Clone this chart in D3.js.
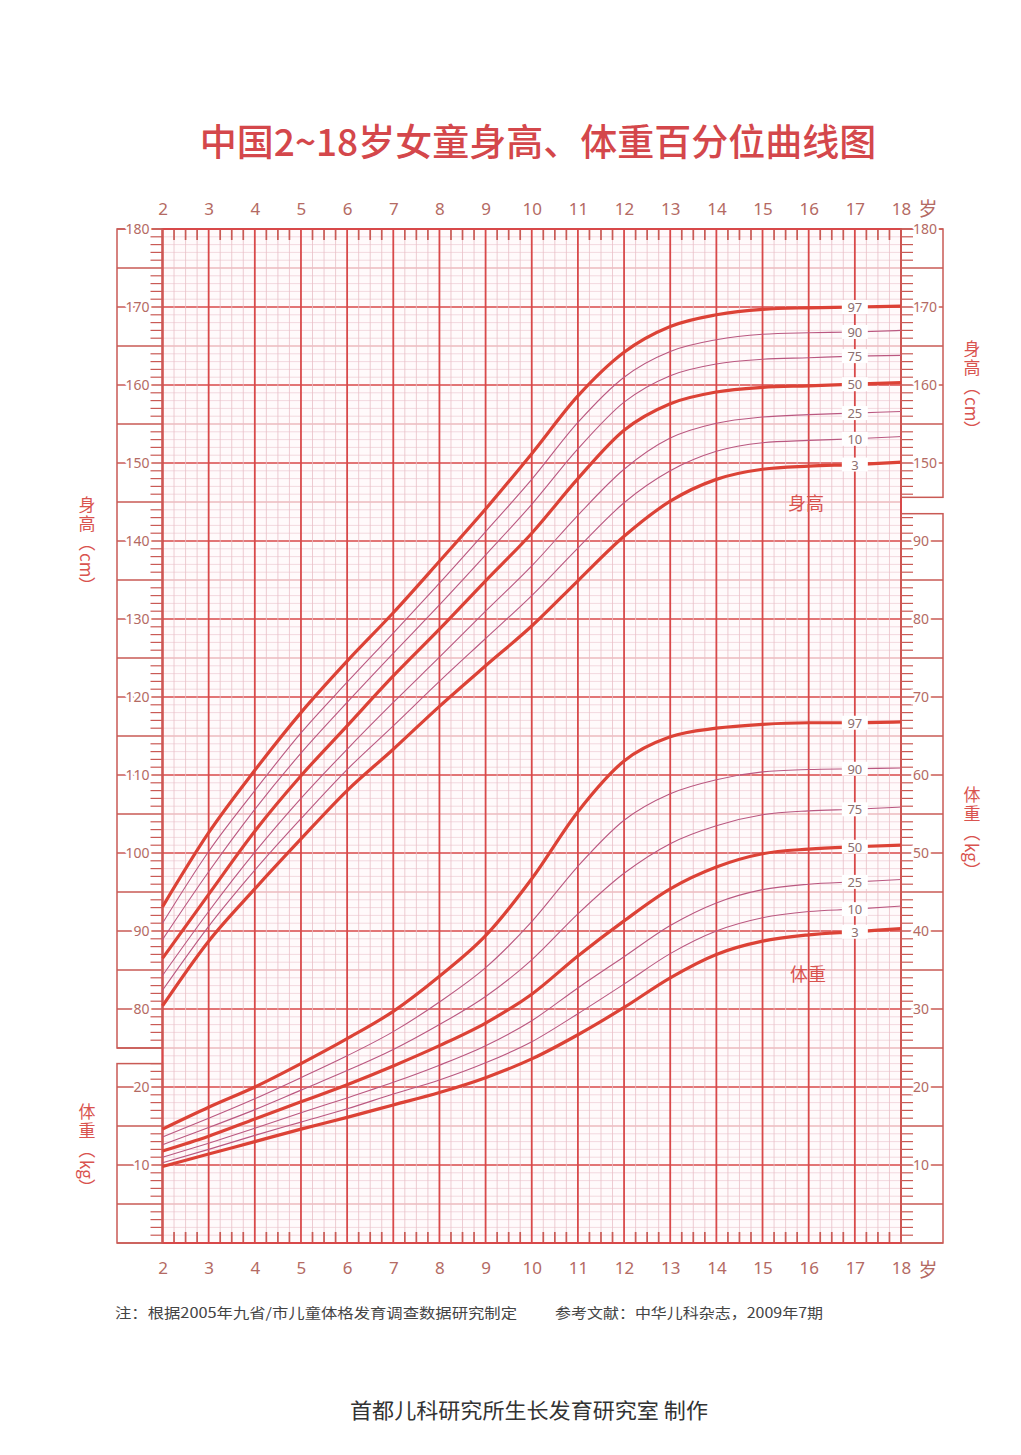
<!DOCTYPE html>
<html>
<head>
<meta charset="utf-8">
<script src="https://cdn.jsdelivr.net/npm/d3@7"></script>
<style>
  body { margin: 0; background: #fff; }
  svg text { font-family: "Noto Sans CJK SC", "Noto Sans", sans-serif; }
</style>
</head>
<body>
<div id="chart"></div>
<script>
// ages (years) at which the percentile values were read
var ages = [2, 3, 4, 5, 6, 7, 8, 9, 10, 11, 12, 13, 14, 15, 16, 17, 18];
var percentiles = ["3", "10", "25", "50", "75", "90", "97"];

// height (cm)
var h3  = [80.4, 88.7, 95.4, 101.8, 108.0, 113.3, 118.8, 124.0, 129.1, 134.9, 140.6, 145.1, 147.9, 149.2, 149.6, 149.8, 150.1];
var h10 = [82.4, 90.6, 97.8, 104.4, 110.7, 116.3, 122.0, 127.5, 133.0, 139.1, 144.9, 149.0, 151.5, 152.6, 152.9, 153.1, 153.4];
var h25 = [84.3, 92.5, 100.1, 107.0, 113.3, 119.3, 125.1, 131.0, 136.8, 143.3, 149.2, 153.2, 155.1, 155.9, 156.2, 156.4, 156.6];
var h50 = [86.5, 94.7, 102.8, 109.9, 116.3, 122.7, 128.7, 134.9, 141.0, 148.0, 154.2, 157.6, 159.1, 159.7, 159.9, 160.1, 160.3];
var h75 = [88.9, 97.6, 105.6, 112.8, 119.3, 125.6, 131.8, 138.2, 144.7, 151.8, 157.8, 161.2, 162.7, 163.3, 163.5, 163.7, 163.8];
var h90 = [91.0, 100.2, 108.0, 115.4, 121.9, 128.2, 134.6, 141.2, 147.9, 155.2, 161.0, 164.3, 165.8, 166.5, 166.7, 166.8, 167.0];
var h97 = [93.1, 102.6, 110.6, 118.0, 124.6, 130.8, 137.4, 144.1, 151.2, 158.6, 164.2, 167.5, 169.0, 169.7, 169.9, 170.0, 170.1];

// weight (kg)
var w3  = [9.8, 11.4, 13.0, 14.6, 16.1, 17.7, 19.3, 21.2, 23.6, 26.7, 30.2, 34.0, 37.0, 38.7, 39.5, 39.9, 40.3];
var w10 = [10.3, 12.0, 13.8, 15.5, 17.2, 19.1, 20.9, 23.1, 25.8, 29.4, 33.2, 37.1, 40.0, 41.7, 42.5, 42.8, 43.2];
var w25 = [11.0, 12.8, 14.7, 16.7, 18.6, 20.6, 22.8, 25.3, 28.5, 32.7, 36.7, 40.7, 43.6, 45.3, 46.0, 46.3, 46.6];
var w50 = [11.8, 13.7, 15.9, 18.1, 20.3, 22.7, 25.3, 28.2, 31.9, 36.8, 41.3, 45.4, 48.2, 49.9, 50.5, 50.8, 51.0];
var w75 = [12.6, 14.8, 17.1, 19.6, 22.1, 24.8, 28.0, 31.6, 36.3, 42.2, 47.4, 51.2, 53.5, 54.9, 55.4, 55.6, 55.9];
var w90 = [13.6, 16.0, 18.5, 21.2, 24.0, 27.1, 30.9, 35.3, 41.2, 48.3, 54.2, 57.6, 59.4, 60.4, 60.7, 60.8, 60.9];
var w97 = [14.6, 17.4, 20.0, 23.0, 26.2, 29.7, 34.2, 39.4, 46.7, 55.3, 61.8, 64.9, 66.0, 66.5, 66.7, 66.7, 66.8];

// tick labels
var ageTicks = [2, 3, 4, 5, 6, 7, 8, 9, 10, 11, 12, 13, 14, 15, 16, 17, 18];
var heightTicksLeft = [80, 90, 100, 110, 120, 130, 140, 150, 160, 170, 180];
var heightTicksRight = [150, 160, 170, 180];
var weightTicksLeft = [10, 20];
var weightTicksRight = [10, 20, 30, 40, 50, 60, 70, 80, 90];

var heightSeries = [h3, h10, h25, h50, h75, h90, h97];
var weightSeries = [w3, w10, w25, w50, w75, w90, w97];

var red = "#d8494a";
var boxColor = "#c95a55";
var labelColor = "#b46a63";

var svg = d3.select("#chart").append("svg")
  .attr("width", 1021)
  .attr("height", 1455);

svg.append("rect").attr("width", 1021).attr("height", 1455).attr("fill", "#fff");

var x = d3.scaleLinear().domain([2, 18]).range([162.5, 901]);
var yH = d3.scaleLinear().domain([50, 180]).range([1243, 229]);
var yW = d3.scaleLinear().domain([0, 130]).range([1243, 229]);

// title
svg.append("text")
  .attr("x", 538).attr("y", 140)
  .attr("text-anchor", "middle")
  .attr("dominant-baseline", "central")
  .style("font-size", "37px")
  .style("font-weight", 500)
  .attr("fill", "#d4474b")
  .text("中国2~18岁女童身高、体重百分位曲线图");

// ---- grid ----
var grid = svg.append("g");
grid.append("rect")
  .attr("x", x(2)).attr("y", yH(180))
  .attr("width", x(18) - x(2)).attr("height", yH(50) - yH(180))
  .attr("fill", "#fffafb");
// horizontal lines every 1 cm
d3.range(50, 181).forEach(function (v) {
  var cls = v % 10 == 0 ? 2 : (v % 5 == 0 ? 1 : 0);
  grid.append("line")
    .attr("x1", x(2)).attr("x2", x(18))
    .attr("y1", yH(v)).attr("y2", yH(v))
    .attr("stroke", cls == 2 ? red : (cls == 1 ? "#e39aa0" : "#eecbd2"))
    .attr("stroke-width", cls == 2 ? 1.7 : (cls == 1 ? 1.1 : 0.7));
});
// vertical lines every quarter year
d3.range(2, 18.01, 0.25).forEach(function (a) {
  var major = Math.abs(a - Math.round(a)) < 0.01;
  grid.append("line")
    .attr("x1", x(a)).attr("x2", x(a))
    .attr("y1", yH(180)).attr("y2", yH(50))
    .attr("stroke", major ? red : "#e9bfc7")
    .attr("stroke-width", major ? 1.8 : 0.8);
  if (!major) {
    grid.append("line")
      .attr("x1", x(a)).attr("x2", x(a))
      .attr("y1", yH(180)).attr("y2", yH(180) + 11)
      .attr("stroke", boxColor).attr("stroke-width", 1.7);
    grid.append("line")
      .attr("x1", x(a)).attr("x2", x(a))
      .attr("y1", yH(50)).attr("y2", yH(50) - 11)
      .attr("stroke", boxColor).attr("stroke-width", 1.7);
  }
});
grid.append("rect")
  .attr("x", x(2)).attr("y", yH(180))
  .attr("width", x(18) - x(2)).attr("height", yH(50) - yH(180))
  .attr("fill", "none").attr("stroke", red).attr("stroke-width", 2);

// ---- side boxes ----
function sideBox(scale, lo, hi, side) {
  var g = svg.append("g");
  var x0 = side == "left" ? 117 : x(18);
  var x1 = side == "left" ? x(2) : 943;
  g.append("rect")
    .attr("x", x0).attr("y", scale(hi))
    .attr("width", x1 - x0).attr("height", scale(lo) - scale(hi))
    .attr("fill", "none").attr("stroke", boxColor).attr("stroke-width", 1.5);
  d3.range(Math.ceil(lo), Math.floor(hi) + 1).forEach(function (v) {
    if (v % 5 == 0) {
      g.append("line")
        .attr("x1", x0).attr("x2", x1)
        .attr("y1", scale(v)).attr("y2", scale(v))
        .attr("stroke", boxColor).attr("stroke-width", 1.3);
    } else {
      var ta = side == "left" ? x(2) - 12 : x(18);
      g.append("line")
        .attr("x1", ta).attr("x2", ta + 12)
        .attr("y1", scale(v)).attr("y2", scale(v))
        .attr("stroke", boxColor).attr("stroke-width", 1.2);
    }
  });
}
sideBox(yH, 75, 180, "left");
sideBox(yW, 0, 23, "left");
sideBox(yH, 145.6, 180, "right");
sideBox(yW, 0, 93.5, "right");

function styleAxis(g, size) {
  g.select(".domain").remove();
  g.selectAll("text")
    .attr("fill", labelColor)
    .style("font-size", size + "px")
    .style("font-family", "'Noto Sans', sans-serif");
}
function haloAxis(g) {
  styleAxis(g, 14);
  g.selectAll("text")
    .attr("stroke", "#fff").attr("stroke-width", 5)
    .attr("paint-order", "stroke");
}

svg.append("g").attr("transform", "translate(" + x(2) + ",0)")
  .call(d3.axisLeft(yH).tickValues(heightTicksLeft).tickSize(0).tickPadding(13))
  .call(haloAxis);
svg.append("g").attr("transform", "translate(" + x(2) + ",0)")
  .call(d3.axisLeft(yW).tickValues(weightTicksLeft).tickSize(0).tickPadding(13))
  .call(haloAxis);
svg.append("g").attr("transform", "translate(" + x(18) + ",0)")
  .call(d3.axisRight(yH).tickValues(heightTicksRight).tickSize(0).tickPadding(12))
  .call(haloAxis);
svg.append("g").attr("transform", "translate(" + x(18) + ",0)")
  .call(d3.axisRight(yW).tickValues(weightTicksRight).tickSize(0).tickPadding(12))
  .call(haloAxis);

// age axes
svg.append("g").attr("transform", "translate(0,215)")
  .call(d3.axisTop(x).tickValues(ageTicks).tickSize(0).tickPadding(0))
  .call(function (g) { styleAxis(g, 17); });
svg.append("g").attr("transform", "translate(0,1262)")
  .call(d3.axisBottom(x).tickValues(ageTicks).tickSize(0).tickPadding(0))
  .call(function (g) { styleAxis(g, 17); });
[207, 1268].forEach(function (yy) {
  svg.append("text")
    .attr("x", 928).attr("y", yy)
    .attr("text-anchor", "middle").attr("dominant-baseline", "central")
    .style("font-size", "19px").attr("fill", labelColor)
    .text("岁");
});

// vertical axis titles: CJK part spaced, unit kept tight
function vTitle(xx, yy, name, unit) {
  var t = svg.append("text")
    .attr("x", xx).attr("y", yy)
    .style("writing-mode", "vertical-rl")
    .style("font-size", "17px")
    .attr("fill", "#d9534f");
  t.append("tspan").style("letter-spacing", "2px").text(name + "（");
  t.append("tspan").style("letter-spacing", "0px").text(unit);
  t.append("tspan").text("）");
}
vTitle(87, 496, "身高", "cm");
vTitle(87, 1103, "体重", "kg");
vTitle(972, 340, "身高", "cm");
vTitle(972, 786, "体重", "kg");

// ---- curves ----
function drawCurves(series, scale) {
  var line = d3.line()
    .x(function (d, i) { return x(ages[i]); })
    .y(function (d) { return scale(d); })
    .curve(d3.curveMonotoneX);
  series.forEach(function (s, k) {
    var bold = k == 0 || k == 3 || k == 6;
    svg.append("path")
      .datum(s)
      .attr("d", line)
      .attr("fill", "none")
      .attr("stroke", bold ? "#dc4236" : "#ba5880")
      .attr("stroke-width", bold ? 3.2 : 1.1)
      .attr("stroke-linejoin", "round");
  });
  // percentile labels at age 17
  series.forEach(function (s, k) {
    var yy = scale(s[15]);
    svg.append("rect")
      .attr("x", x(17) - 13).attr("y", yy - 7)
      .attr("width", 26).attr("height", 14)
      .attr("fill", "#fff");
    svg.append("text")
      .attr("x", x(17)).attr("y", yy)
      .attr("text-anchor", "middle").attr("dominant-baseline", "central")
      .style("font-size", "13px")
      .style("font-family", "'Noto Sans', sans-serif")
      .attr("fill", "#8d6f6f")
      .text(percentiles[k]);
  });
}
drawCurves(heightSeries, yH);
drawCurves(weightSeries, yW);

svg.append("text").attr("x", 806).attr("y", 502)
  .attr("text-anchor", "middle").attr("dominant-baseline", "central")
  .style("font-size", "18px").attr("fill", "#d9534f").text("身高");
svg.append("text").attr("x", 808).attr("y", 973)
  .attr("text-anchor", "middle").attr("dominant-baseline", "central")
  .style("font-size", "18px").attr("fill", "#d9534f").text("体重");

// ---- footnotes ----
svg.append("text").attr("x", 115).attr("y", 1318)
  .style("font-size", "14px").attr("fill", "#444")
  .attr("textLength", 402).attr("lengthAdjust", "spacingAndGlyphs")
  .text("注：根据2005年九省/市儿童体格发育调查数据研究制定");
svg.append("text").attr("x", 555).attr("y", 1318)
  .style("font-size", "14px").attr("fill", "#444")
  .attr("textLength", 268).attr("lengthAdjust", "spacingAndGlyphs")
  .text("参考文献：中华儿科杂志，2009年7期");
svg.append("text").attr("x", 350).attr("y", 1418)
  .style("font-size", "21px").attr("fill", "#333")
  .attr("textLength", 358).attr("lengthAdjust", "spacingAndGlyphs")
  .text("首都儿科研究所生长发育研究室 制作");
</script>
</body>
</html>
